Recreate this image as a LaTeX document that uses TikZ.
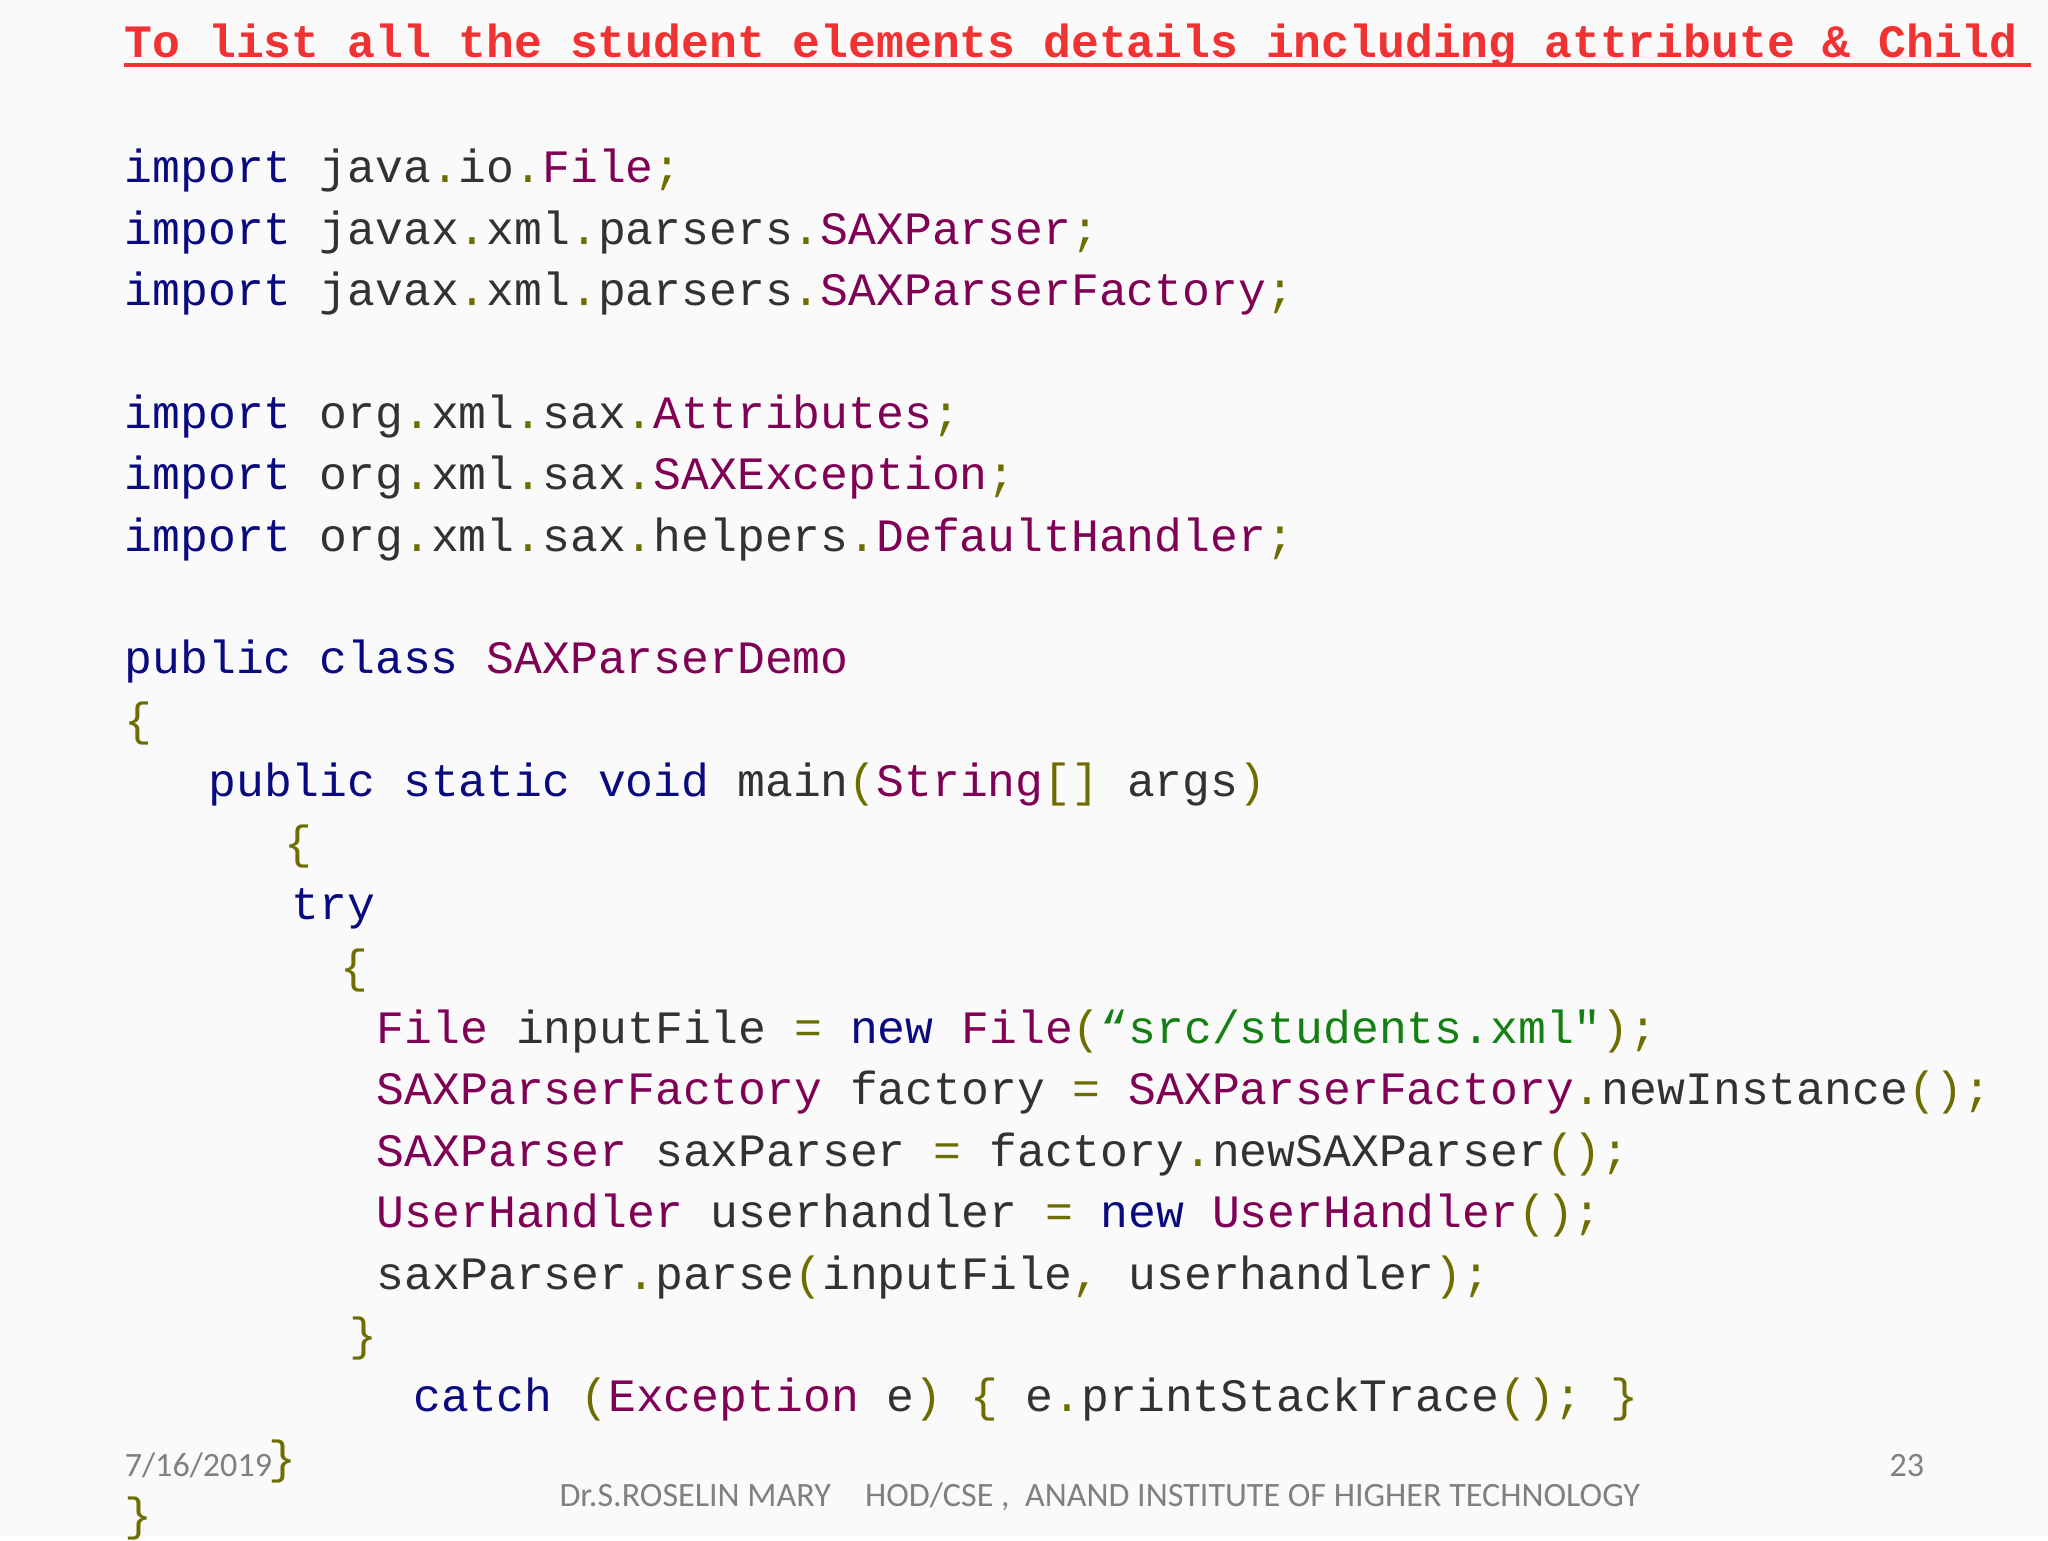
\documentclass[tikz,border=0pt]{standalone}
\usepackage{fontspec}
\setmonofont{Liberation Mono}
\newfontfamily\foot{Carlito}
\definecolor{kwc}{RGB}{10,10,128}
\definecolor{clc}{RGB}{127,0,85}
\definecolor{puc}{RGB}{110,110,0}
\definecolor{stc}{RGB}{20,128,20}
\definecolor{txc}{RGB}{50,50,50}
\definecolor{ttc}{RGB}{240,50,50}
\newcommand{\kw}[1]{\textcolor{kwc}{#1}}
\newcommand{\cl}[1]{\textcolor{clc}{#1}}
\newcommand{\pu}[1]{\textcolor{puc}{#1}}
\newcommand{\st}[1]{\textcolor{stc}{#1}}
\begin{document}
\begin{tikzpicture}[x=0.01306cm,y=-0.01306cm,
  code/.style={anchor=base west,inner sep=0pt,font=\ttfamily\fontsize{13.2}{14}\selectfont,text=txc},
  ft/.style={inner sep=0pt,font=\foot\fontsize{9.7}{11}\selectfont,text=gray}]
\fill[gray!4] (0,0) rectangle (1568,1176);
\node[code,text=ttc,font=\ttfamily\bfseries\fontsize{13.2}{14}\selectfont] (t) at (95,44) {To list all the student elements details including attribute \& Child};
\draw[ttc,line width=1.2pt] (95,50) -- (1555,50);
\node[code] (i1) at (95,140) {\kw{import} java\pu{.}io\pu{.}\cl{File}\pu{;}};
\node[code] (i2) at (95,187) {\kw{import} javax\pu{.}xml\pu{.}parsers\pu{.}\cl{SAXParser}\pu{;}};
\node[code] (i3) at (95,234) {\kw{import} javax\pu{.}xml\pu{.}parsers\pu{.}\cl{SAXParserFactory}\pu{;}};
\node[code] (i4) at (95,328) {\kw{import} org\pu{.}xml\pu{.}sax\pu{.}\cl{Attributes}\pu{;}};
\node[code] (i5) at (95,375) {\kw{import} org\pu{.}xml\pu{.}sax\pu{.}\cl{SAXException}\pu{;}};
\node[code] (i6) at (95,422) {\kw{import} org\pu{.}xml\pu{.}sax\pu{.}helpers\pu{.}\cl{DefaultHandler}\pu{;}};
\node[code] (c1) at (95,516) {\kw{public class} \cl{SAXParserDemo}};
\node[code] (c2) at (95,563) {\pu{\{}};
\node[code] (c3) at (159,610) {\kw{public static void} main\pu{(}\cl{String}\pu{[]} args\pu{)}};
\node[code] (c4) at (217,657) {\pu{\{}};
\node[code] (c5) at (223,704) {\kw{try}};
\node[code] (c6) at (260,752) {\pu{\{}};
\node[code] (c7) at (288,799) {\cl{File} inputFile \pu{=} \kw{new} \cl{File}\pu{(}\st{“src/students.xml"}\pu{);}};
\node[code] (c8) at (288,846) {\cl{SAXParserFactory} factory \pu{=} \cl{SAXParserFactory}\pu{.}newInstance\pu{();}};
\node[code] (c9) at (288,893) {\cl{SAXParser} saxParser \pu{=} factory\pu{.}newSAXParser\pu{();}};
\node[code] (c10) at (288,940) {\cl{UserHandler} userhandler \pu{=} \kw{new} \cl{UserHandler}\pu{();}};
\node[code] (c11) at (288,987) {saxParser\pu{.}parse\pu{(}inputFile\pu{,} userhandler\pu{);}};
\node[code] (c12) at (267,1034) {\pu{\}}};
\node[code] (c13) at (316,1081) {\kw{catch} \pu{(}\cl{Exception} e\pu{)} \pu{\{} e\pu{.}printStackTrace\pu{();} \pu{\}}};
\node[code] (c14) at (205,1128) {\pu{\}}};
\node[code] (c15) at (95,1172) {\pu{\}}};
\node[ft,anchor=west] (d) at (95,1122) {7/16/2019};
\node[ft] (n) at (1460,1122) {23};
\node[ft] (f) at (842,1146) {Dr.S.ROSELIN MARY\quad HOD/CSE ,\ \ ANAND INSTITUTE OF HIGHER TECHNOLOGY};
\end{tikzpicture}
\end{document}
